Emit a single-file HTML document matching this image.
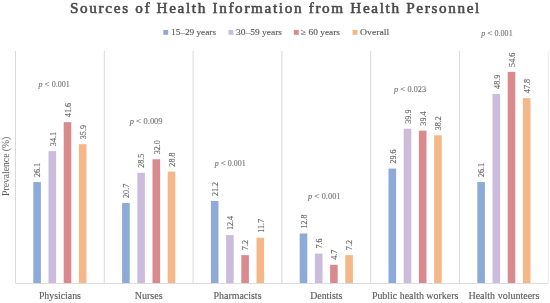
<!DOCTYPE html>
<html><head><meta charset="utf-8"><style>
html,body{margin:0;padding:0;background:#fff;width:550px;height:303px;overflow:hidden}
svg{display:block}
text{font-family:'Liberation Serif', serif}
</style></head><body>
<svg width="550" height="303" viewBox="0 0 550 303">
<rect width="550" height="303" fill="#fff"/>
<text x="70" y="12.6" font-size="14.8" fill="#4a4a4a" stroke="#4a4a4a" stroke-width="0.55" letter-spacing="1.6" textLength="411" lengthAdjust="spacingAndGlyphs">Sources of Health Information from Health Personnel</text>
<rect x="163.3" y="29.9" width="4.9" height="4.9" fill="#8eaad9"/>
<text x="171" y="34.8" font-size="8.9" fill="#595959" stroke="#595959" stroke-width="0.12" textLength="45.0" lengthAdjust="spacingAndGlyphs">15–29 years</text>
<rect x="228.5" y="29.9" width="4.9" height="4.9" fill="#cbbcde"/>
<text x="236" y="34.8" font-size="8.9" fill="#595959" stroke="#595959" stroke-width="0.12" textLength="46.0" lengthAdjust="spacingAndGlyphs">30–59 years</text>
<rect x="293.8" y="29.9" width="4.9" height="4.9" fill="#d98a8f"/>
<text x="301" y="34.8" font-size="8.9" fill="#595959" stroke="#595959" stroke-width="0.12" textLength="39.0" lengthAdjust="spacingAndGlyphs">≥ 60 years</text>
<rect x="352.5" y="29.9" width="4.9" height="4.9" fill="#f5b787"/>
<text x="360" y="34.8" font-size="8.9" fill="#595959" stroke="#595959" stroke-width="0.12" textLength="29.2" lengthAdjust="spacingAndGlyphs">Overall</text>
<line x1="15.50" y1="51" x2="15.50" y2="283.0" stroke="#d9d9d9" stroke-width="1"/>
<line x1="104.30" y1="51" x2="104.30" y2="283.0" stroke="#d9d9d9" stroke-width="1"/>
<line x1="193.10" y1="51" x2="193.10" y2="283.0" stroke="#d9d9d9" stroke-width="1"/>
<line x1="281.90" y1="51" x2="281.90" y2="283.0" stroke="#d9d9d9" stroke-width="1"/>
<line x1="370.70" y1="51" x2="370.70" y2="283.0" stroke="#d9d9d9" stroke-width="1"/>
<line x1="459.50" y1="51" x2="459.50" y2="283.0" stroke="#d9d9d9" stroke-width="1"/>
<line x1="548.30" y1="51" x2="548.30" y2="283.0" stroke="#ececec" stroke-width="1"/>
<line x1="15.5" y1="283.5" x2="548.30" y2="283.5" stroke="#dddddd" stroke-width="1"/>
<rect x="33.30" y="182.08" width="7.6" height="100.92" fill="#8eaad9"/>
<text transform="translate(40.30,177.08) rotate(-90)" font-size="8.1" fill="#666666" stroke="#666666" stroke-width="0.15">26.1</text>
<rect x="48.50" y="151.15" width="7.6" height="131.85" fill="#cbbcde"/>
<text transform="translate(55.50,146.15) rotate(-90)" font-size="8.1" fill="#666666" stroke="#666666" stroke-width="0.15">34.1</text>
<rect x="63.70" y="122.15" width="7.6" height="160.85" fill="#d98a8f"/>
<text transform="translate(70.70,117.15) rotate(-90)" font-size="8.1" fill="#666666" stroke="#666666" stroke-width="0.15">41.6</text>
<rect x="78.90" y="144.19" width="7.6" height="138.81" fill="#f5b787"/>
<text transform="translate(85.90,139.19) rotate(-90)" font-size="8.1" fill="#666666" stroke="#666666" stroke-width="0.15">35.9</text>
<text x="59.90" y="298.9" font-size="10" fill="#5f5f5f" stroke="#5f5f5f" stroke-width="0.15" text-anchor="middle" textLength="42" lengthAdjust="spacingAndGlyphs">Physicians</text>
<text x="38.5" y="86.8" font-size="7.6" fill="#767676" stroke="#767676" stroke-width="0.12" textLength="31.3" lengthAdjust="spacingAndGlyphs"><tspan font-style="italic">p</tspan> <tspan font-size="8.6">&lt;</tspan> 0.001</text>
<rect x="122.10" y="202.96" width="7.6" height="80.04" fill="#8eaad9"/>
<text transform="translate(129.10,197.96) rotate(-90)" font-size="8.1" fill="#666666" stroke="#666666" stroke-width="0.15">20.7</text>
<rect x="137.30" y="172.80" width="7.6" height="110.20" fill="#cbbcde"/>
<text transform="translate(144.30,167.80) rotate(-90)" font-size="8.1" fill="#666666" stroke="#666666" stroke-width="0.15">28.5</text>
<rect x="152.50" y="159.27" width="7.6" height="123.73" fill="#d98a8f"/>
<text transform="translate(159.50,154.27) rotate(-90)" font-size="8.1" fill="#666666" stroke="#666666" stroke-width="0.15">32.0</text>
<rect x="167.70" y="171.64" width="7.6" height="111.36" fill="#f5b787"/>
<text transform="translate(174.70,166.64) rotate(-90)" font-size="8.1" fill="#666666" stroke="#666666" stroke-width="0.15">28.8</text>
<text x="148.70" y="298.9" font-size="10" fill="#5f5f5f" stroke="#5f5f5f" stroke-width="0.15" text-anchor="middle" textLength="28" lengthAdjust="spacingAndGlyphs">Nurses</text>
<text x="129.8" y="123.5" font-size="7.6" fill="#767676" stroke="#767676" stroke-width="0.12" textLength="32.7" lengthAdjust="spacingAndGlyphs"><tspan font-style="italic">p</tspan> <tspan font-size="8.6">&lt;</tspan> 0.009</text>
<rect x="210.90" y="201.03" width="7.6" height="81.97" fill="#8eaad9"/>
<text transform="translate(217.90,196.03) rotate(-90)" font-size="8.1" fill="#666666" stroke="#666666" stroke-width="0.15">21.2</text>
<rect x="226.10" y="235.05" width="7.6" height="47.95" fill="#cbbcde"/>
<text transform="translate(233.10,230.05) rotate(-90)" font-size="8.1" fill="#666666" stroke="#666666" stroke-width="0.15">12.4</text>
<rect x="241.30" y="255.16" width="7.6" height="27.84" fill="#d98a8f"/>
<text transform="translate(248.30,250.16) rotate(-90)" font-size="8.1" fill="#666666" stroke="#666666" stroke-width="0.15">7.2</text>
<rect x="256.50" y="237.76" width="7.6" height="45.24" fill="#f5b787"/>
<text transform="translate(263.50,232.76) rotate(-90)" font-size="8.1" fill="#666666" stroke="#666666" stroke-width="0.15">11.7</text>
<text x="237.50" y="298.9" font-size="10" fill="#5f5f5f" stroke="#5f5f5f" stroke-width="0.15" text-anchor="middle" textLength="48" lengthAdjust="spacingAndGlyphs">Pharmacists</text>
<text x="214.8" y="165.5" font-size="7.6" fill="#767676" stroke="#767676" stroke-width="0.12" textLength="31.0" lengthAdjust="spacingAndGlyphs"><tspan font-style="italic">p</tspan> <tspan font-size="8.6">&lt;</tspan> 0.001</text>
<rect x="299.70" y="233.51" width="7.6" height="49.49" fill="#8eaad9"/>
<text transform="translate(306.70,228.51) rotate(-90)" font-size="8.1" fill="#666666" stroke="#666666" stroke-width="0.15">12.8</text>
<rect x="314.90" y="253.61" width="7.6" height="29.39" fill="#cbbcde"/>
<text transform="translate(321.90,248.61) rotate(-90)" font-size="8.1" fill="#666666" stroke="#666666" stroke-width="0.15">7.6</text>
<rect x="330.10" y="264.83" width="7.6" height="18.17" fill="#d98a8f"/>
<text transform="translate(337.10,259.83) rotate(-90)" font-size="8.1" fill="#666666" stroke="#666666" stroke-width="0.15">4.7</text>
<rect x="345.30" y="255.16" width="7.6" height="27.84" fill="#f5b787"/>
<text transform="translate(352.30,250.16) rotate(-90)" font-size="8.1" fill="#666666" stroke="#666666" stroke-width="0.15">7.2</text>
<text x="326.30" y="298.9" font-size="10" fill="#5f5f5f" stroke="#5f5f5f" stroke-width="0.15" text-anchor="middle" textLength="32.3" lengthAdjust="spacingAndGlyphs">Dentists</text>
<text x="308" y="199" font-size="7.6" fill="#767676" stroke="#767676" stroke-width="0.12" textLength="32.5" lengthAdjust="spacingAndGlyphs"><tspan font-style="italic">p</tspan> <tspan font-size="8.6">&lt;</tspan> 0.001</text>
<rect x="388.50" y="168.55" width="7.6" height="114.45" fill="#8eaad9"/>
<text transform="translate(395.50,163.55) rotate(-90)" font-size="8.1" fill="#666666" stroke="#666666" stroke-width="0.15">29.6</text>
<rect x="403.70" y="128.72" width="7.6" height="154.28" fill="#cbbcde"/>
<text transform="translate(410.70,123.72) rotate(-90)" font-size="8.1" fill="#666666" stroke="#666666" stroke-width="0.15">39.9</text>
<rect x="418.90" y="130.65" width="7.6" height="152.35" fill="#d98a8f"/>
<text transform="translate(425.90,125.65) rotate(-90)" font-size="8.1" fill="#666666" stroke="#666666" stroke-width="0.15">39.4</text>
<rect x="434.10" y="135.29" width="7.6" height="147.71" fill="#f5b787"/>
<text transform="translate(441.10,130.29) rotate(-90)" font-size="8.1" fill="#666666" stroke="#666666" stroke-width="0.15">38.2</text>
<text x="415.10" y="298.9" font-size="10" fill="#5f5f5f" stroke="#5f5f5f" stroke-width="0.15" text-anchor="middle" textLength="86.4" lengthAdjust="spacingAndGlyphs">Public health workers</text>
<text x="394" y="91.7" font-size="7.6" fill="#767676" stroke="#767676" stroke-width="0.12" textLength="32" lengthAdjust="spacingAndGlyphs"><tspan font-style="italic">p</tspan> <tspan font-size="8.6">&lt;</tspan> 0.023</text>
<rect x="477.30" y="182.08" width="7.6" height="100.92" fill="#8eaad9"/>
<text transform="translate(484.30,177.08) rotate(-90)" font-size="8.1" fill="#666666" stroke="#666666" stroke-width="0.15">26.1</text>
<rect x="492.50" y="93.92" width="7.6" height="189.08" fill="#cbbcde"/>
<text transform="translate(499.50,88.92) rotate(-90)" font-size="8.1" fill="#666666" stroke="#666666" stroke-width="0.15">48.9</text>
<rect x="507.70" y="71.88" width="7.6" height="211.12" fill="#d98a8f"/>
<text transform="translate(514.70,66.88) rotate(-90)" font-size="8.1" fill="#666666" stroke="#666666" stroke-width="0.15">54.6</text>
<rect x="522.90" y="98.17" width="7.6" height="184.83" fill="#f5b787"/>
<text transform="translate(529.90,93.17) rotate(-90)" font-size="8.1" fill="#666666" stroke="#666666" stroke-width="0.15">47.8</text>
<text x="503.90" y="298.9" font-size="10" fill="#5f5f5f" stroke="#5f5f5f" stroke-width="0.15" text-anchor="middle" textLength="70.9" lengthAdjust="spacingAndGlyphs">Health volunteers</text>
<text x="481.2" y="35.5" font-size="7.6" fill="#767676" stroke="#767676" stroke-width="0.12" textLength="31.5" lengthAdjust="spacingAndGlyphs"><tspan font-style="italic">p</tspan> <tspan font-size="8.6">&lt;</tspan> 0.001</text>
<text transform="translate(8.9,195.9) rotate(-90)" font-size="9.6" fill="#595959" textLength="59.2" lengthAdjust="spacingAndGlyphs">Prevalence (%)</text>
</svg></body></html>
